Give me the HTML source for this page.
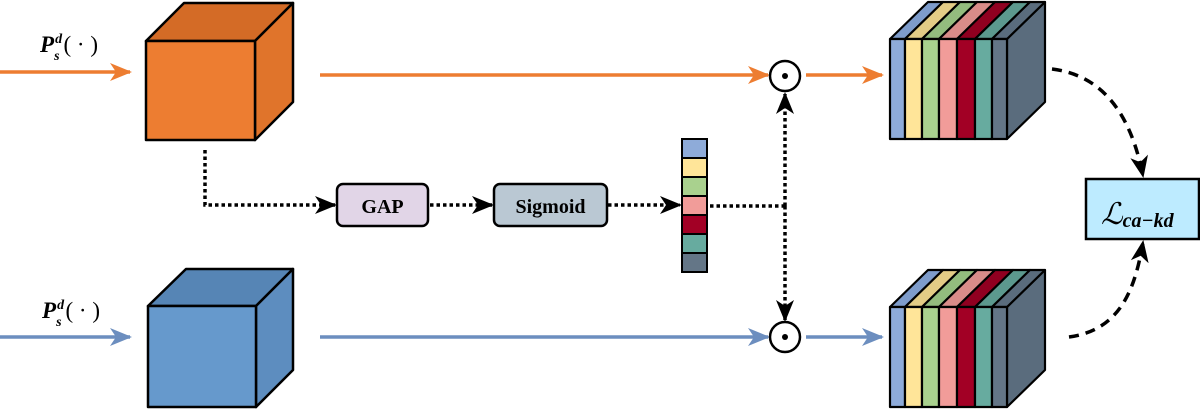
<!DOCTYPE html>
<html><head><meta charset="utf-8"><style>
html,body{margin:0;padding:0;background:#fff;width:1200px;height:410px;overflow:hidden}
</style></head><body>
<svg width="1200" height="410" viewBox="0 0 1200 410" xmlns="http://www.w3.org/2000/svg" font-family="Liberation Serif, serif">
<defs>
<marker id="ao" markerWidth="22" markerHeight="18" refX="20" refY="9" orient="auto" markerUnits="userSpaceOnUse" viewBox="0 0 22 18"><path d="M0,0 L22,9 L0,18 L6,9 Z" fill="#ED7D31"/></marker>
<marker id="ab" markerWidth="22" markerHeight="18" refX="20" refY="9" orient="auto" markerUnits="userSpaceOnUse" viewBox="0 0 22 18"><path d="M0,0 L22,9 L0,18 L6,9 Z" fill="#6C8EBF"/></marker>
<marker id="ak" markerWidth="22" markerHeight="18" refX="20" refY="9" orient="auto" markerUnits="userSpaceOnUse" viewBox="0 0 22 18"><path d="M0,0 L22,9 L0,18 L6,9 Z" fill="#000"/></marker>
</defs>
<style>.o{stroke:#ED7D31;stroke-width:3.5;fill:none}.b{stroke:#6C8EBF;stroke-width:3.5;fill:none}.d{stroke:#000;stroke-width:3.5;stroke-dasharray:3.5 3;fill:none}.ds{stroke:#000;stroke-width:3.5;stroke-dasharray:10 7;fill:none}</style>

<path class="o" d="M0,72 L130,72" marker-end="url(#ao)"/>
<path class="b" d="M0,337 L130,337" marker-end="url(#ab)"/>
<text x="40" y="52" font-size="23" font-style="italic" font-weight="bold">P<tspan font-size="14" dx="1" dy="-9">d</tspan><tspan font-size="14" dx="-8" dy="17">s</tspan><tspan dx="4" dy="-8" font-style="normal" font-weight="normal">( · )</tspan></text>
<text x="42" y="318" font-size="23" font-style="italic" font-weight="bold">P<tspan font-size="14" dx="1" dy="-9">d</tspan><tspan font-size="14" dx="-8" dy="17">s</tspan><tspan dx="4" dy="-8" font-style="normal" font-weight="normal">( · )</tspan></text>

<g stroke="#000" stroke-width="2.5" stroke-linejoin="round">
<polygon points="146,41 184,3 293,3 255,41" fill="#D46B26"/>
<polygon points="255,41 293,3 293,102 255,140" fill="#E0742B"/>
<rect x="146" y="41" width="109" height="99" fill="#ED7D31"/>
<polygon points="148,306 186,269 293,269 256,306" fill="#5685B5"/>
<polygon points="256,306 293,269 293,370 256,407" fill="#5D8DBF"/>
<rect x="148" y="306" width="108" height="101" fill="#6699CC"/>
</g>

<path class="o" d="M320,75 L768,75" marker-end="url(#ao)"/>
<path class="b" d="M320,337 L768,337" marker-end="url(#ab)"/>
<path class="o" d="M806,75 L882,75" marker-end="url(#ao)"/>
<path class="b" d="M806,337 L882,337" marker-end="url(#ab)"/>

<g stroke="#000" stroke-width="2.5" fill="#fff">
<circle cx="785" cy="76" r="15"/><circle cx="785" cy="337" r="15"/>
</g>
<circle cx="785" cy="76" r="3" fill="#000"/><circle cx="785" cy="337" r="3" fill="#000"/>

<path class="d" d="M205,150 L205,205 L335,205" marker-end="url(#ak)"/>
<path class="d" d="M430,205 L492,205" marker-end="url(#ak)"/>
<path class="d" d="M608,205 L680,205" marker-end="url(#ak)"/>
<path class="d" d="M710,206 L785,206"/>
<path class="d" d="M785,206 L785,94" marker-end="url(#ak)"/>
<path class="d" d="M785,206 L785,320" marker-end="url(#ak)"/>

<rect x="337" y="184" width="91" height="42" rx="6" fill="#E1D5E7" stroke="#000" stroke-width="2.5"/>
<text x="382.5" y="213" text-anchor="middle" font-size="20" font-weight="bold">GAP</text>
<rect x="494" y="184" width="113" height="42" rx="6" fill="#BAC8D3" stroke="#000" stroke-width="2.5"/>
<text x="550.5" y="213" text-anchor="middle" font-size="20" font-weight="bold">Sigmoid</text>

<g stroke="#000" stroke-width="2">
<rect x="682" y="139" width="25" height="19" fill="#8EABD9"/>
<rect x="682" y="158" width="25" height="19" fill="#FFE599"/>
<rect x="682" y="177" width="25" height="19" fill="#A9D18E"/>
<rect x="682" y="196" width="25" height="19" fill="#F19C99"/>
<rect x="682" y="215" width="25" height="19" fill="#A20025"/>
<rect x="682" y="234" width="25" height="19" fill="#67AB9F"/>
<rect x="682" y="253" width="25" height="19" fill="#647687"/>
</g>

<g id="sc" stroke="#000" stroke-width="2.2" stroke-linejoin="round">
<polygon points="1007,39 1045,2 1045,102 1007,139" fill="#5A6C7D"/>
<polygon points="890,39 928,2 943,2 905,39" fill="#7E9CCB"/>
<polygon points="905,39 943,2 960,2 922,39" fill="#E3CC86"/>
<polygon points="922,39 960,2 977,2 939,39" fill="#93BC7E"/>
<polygon points="939,39 977,2 995,2 957,39" fill="#D98C89"/>
<polygon points="957,39 995,2 1013,2 975,39" fill="#900020"/>
<polygon points="975,39 1013,2 1030,2 992,39" fill="#5C998E"/>
<polygon points="992,39 1030,2 1045,2 1007,39" fill="#5A6C7D"/>
<rect x="890" y="39" width="15" height="100" fill="#8EABD9"/>
<rect x="905" y="39" width="17" height="100" fill="#FFE599"/>
<rect x="922" y="39" width="17" height="100" fill="#A9D18E"/>
<rect x="939" y="39" width="18" height="100" fill="#F19C99"/>
<rect x="957" y="39" width="18" height="100" fill="#A20025"/>
<rect x="975" y="39" width="17" height="100" fill="#67AB9F"/>
<rect x="992" y="39" width="15" height="100" fill="#647687"/>
</g>
<use href="#sc" transform="translate(0,268)"/>

<path class="ds" d="M1052,69 C1100,75 1130,110 1143,176" marker-end="url(#ak)"/>
<path class="ds" d="M1069,337 C1120,330 1135,290 1143,242" marker-end="url(#ak)"/>
<rect x="1086" y="179" width="113" height="60" fill="#BDEBFF" stroke="#000" stroke-width="2.5"/>
<text x="1101" y="224" font-size="30" font-style="italic">ℒ<tspan font-size="20" dy="3" font-weight="bold">ca−kd</tspan></text>
</svg>
</body></html>
